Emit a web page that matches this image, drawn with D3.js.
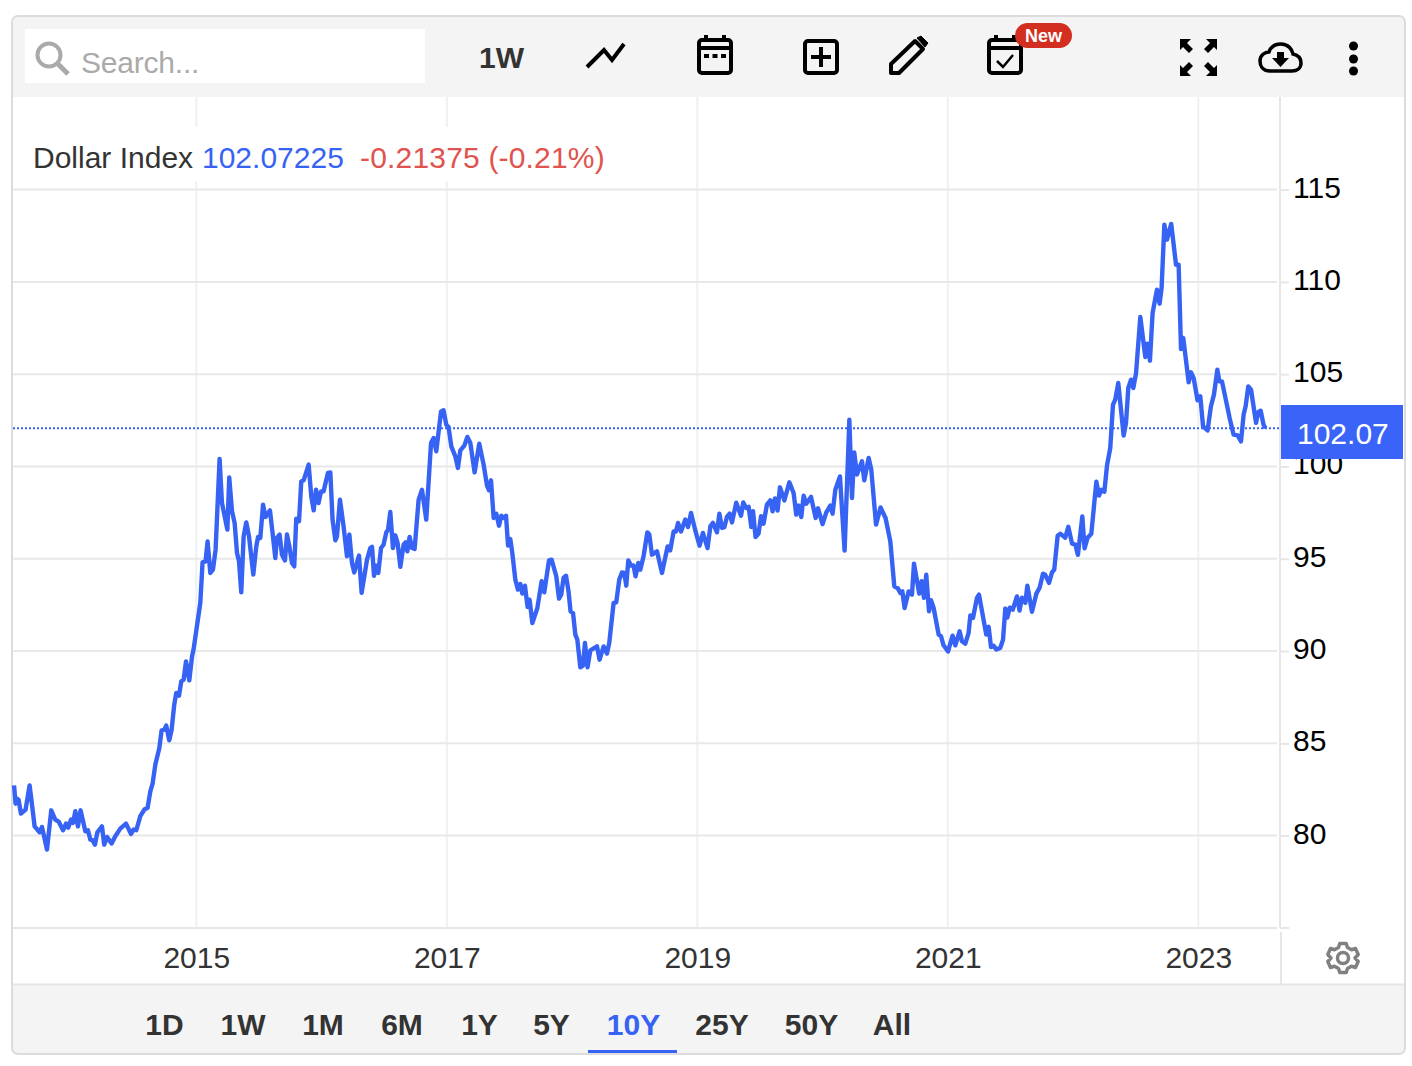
<!DOCTYPE html>
<html>
<head>
<meta charset="utf-8">
<title>Dollar Index</title>
<script src="https://cdnjs.cloudflare.com/ajax/libs/d3/7.8.5/d3.min.js"></script>
<style>
  html, body { margin: 0; padding: 0; background: #fff; }
  svg { display: block; }
  text { font-family: "Liberation Sans", Arial, sans-serif; }
</style>
</head>
<body>
<div id="chart"></div>
<script>
// decimal year of every point
var years = [
2013.545,2013.557,2013.568,2013.581,2013.600,2013.637,2013.669,2013.680,2013.709,2013.749,2013.768,2013.808,2013.842,2013.874,2013.901,2013.936,2013.960,2013.978,
2014.000,2014.016,2014.034,2014.055,2014.076,2014.114,2014.135,2014.154,2014.170,2014.191,2014.210,2014.247,2014.265,2014.287,2014.324,2014.353,2014.393,2014.439,2014.479,2014.499,2014.521,2014.553,2014.585,2014.611,2014.633,2014.651,2014.673,2014.705,2014.723,2014.745,2014.760,2014.784,2014.803,2014.824,2014.840,2014.862,2014.880,2014.899,2014.918,2014.944,2014.966,2014.978,
2015.032,2015.050,2015.074,2015.090,2015.112,2015.133,2015.154,2015.186,2015.205,2015.248,2015.263,2015.285,2015.306,2015.325,2015.341,2015.359,2015.378,2015.399,2015.421,2015.455,2015.479,2015.493,2015.511,2015.533,2015.553,2015.588,2015.609,2015.631,2015.644,2015.665,2015.684,2015.708,2015.724,2015.743,2015.764,2015.782,2015.798,2015.820,2015.838,2015.857,2015.897,2015.918,2015.937,2015.956,2015.976,2015.996,
2016.016,2016.051,2016.070,2016.088,2016.110,2016.123,2016.147,2016.176,2016.203,2016.222,2016.243,2016.261,2016.299,2016.320,2016.363,2016.389,2016.403,2016.419,2016.435,2016.453,2016.475,2016.495,2016.517,2016.531,2016.549,2016.570,2016.589,2016.607,2016.629,2016.655,2016.671,2016.685,2016.703,2016.722,2016.743,2016.775,2016.802,2016.836,2016.874,2016.895,2016.916,2016.954,2016.974,2016.996,
2017.014,2017.036,2017.068,2017.089,2017.108,2017.140,2017.164,2017.188,2017.222,2017.259,2017.294,2017.321,2017.337,2017.353,2017.374,2017.395,2017.417,2017.435,2017.453,2017.473,2017.489,2017.507,2017.523,2017.547,2017.568,2017.587,2017.603,2017.624,2017.645,2017.661,2017.683,2017.723,2017.757,2017.778,2017.816,2017.837,2017.874,2017.896,2017.914,2017.932,2017.952,2017.972,2017.988,
2018.008,2018.026,2018.042,2018.066,2018.087,2018.103,2018.124,2018.146,2018.199,2018.220,2018.252,2018.279,2018.297,2018.332,2018.353,2018.377,2018.399,2018.417,2018.433,2018.449,2018.471,2018.491,2018.507,2018.529,2018.545,2018.571,2018.601,2018.617,2018.638,2018.678,2018.718,2018.763,2018.784,2018.811,2018.830,2018.846,2018.870,2018.904,2018.926,2018.950,2018.986,
2019.018,2019.045,2019.082,2019.104,2019.125,2019.157,2019.176,2019.197,2019.216,2019.237,2019.258,2019.277,2019.311,2019.349,2019.367,2019.391,2019.410,2019.431,2019.445,2019.465,2019.489,2019.509,2019.529,2019.556,2019.583,2019.601,2019.620,2019.641,2019.660,2019.695,2019.735,2019.769,2019.790,2019.809,2019.830,2019.849,2019.870,2019.908,2019.945,2019.964,
2020.000,2020.030,2020.062,2020.080,2020.102,2020.139,2020.176,2020.214,2020.235,2020.253,2020.275,2020.315,2020.333,2020.368,2020.389,2020.427,2020.463,2020.503,2020.541,2020.573,2020.599,2020.621,2020.637,2020.655,2020.687,2020.714,2020.730,2020.772,2020.791,2020.810,2020.828,2020.850,2020.866,2020.887,2020.927,2020.946,2020.966,
2021.002,2021.038,2021.060,2021.094,2021.113,2021.140,2021.166,2021.180,2021.201,2021.233,2021.249,2021.307,2021.326,2021.345,2021.366,2021.387,2021.419,2021.441,2021.459,2021.475,2021.495,2021.519,2021.552,2021.573,2021.592,2021.619,2021.635,2021.672,2021.707,2021.733,2021.760,2021.778,2021.808,2021.832,2021.850,2021.877,2021.898,2021.938,2021.962,2021.992,
2022.018,2022.039,2022.074,2022.092,2022.116,2022.146,2022.186,2022.207,2022.226,2022.250,2022.271,2022.297,2022.319,2022.337,2022.361,2022.404,2022.423,2022.441,2022.463,2022.481,2022.503,2022.537,2022.577,2022.593,2022.614,2022.635,2022.670,2022.691,2022.707,2022.729,2022.750,2022.784,2022.822,2022.843,2022.862,2022.880,2022.923,2022.942,2022.963,2022.994,
2023.016,2023.038,2023.074,2023.101,2023.125,2023.152,2023.168,2023.189,2023.250,2023.282,2023.314,2023.341,2023.362,2023.378,2023.399,2023.421,2023.461,2023.477,2023.498,2023.521,2023.537
];

var dollarIndex = [
82.72,81.73,82.00,81.95,81.19,81.41,82.72,82.13,80.50,80.18,80.47,79.24,81.37,80.87,80.76,80.29,80.65,80.43,
80.87,80.69,81.32,80.50,81.37,80.23,80.29,79.78,79.75,79.51,80.18,80.50,79.51,79.93,79.57,79.96,80.38,80.65,80.09,80.33,80.29,81.05,81.41,81.50,82.40,82.82,83.85,84.75,85.70,85.74,85.96,85.16,85.74,87.10,87.73,87.58,88.36,88.45,89.44,88.41,89.71,90.08,
92.61,94.80,94.86,95.94,94.23,94.41,95.49,100.41,98.02,96.58,99.41,97.57,96.94,95.31,94.86,93.18,96.21,96.97,96.21,94.14,95.67,96.18,96.13,97.93,97.26,97.62,96.40,95.04,96.13,96.31,95.22,94.91,96.31,95.67,94.77,94.59,97.17,97.03,99.19,99.25,100.10,98.38,97.62,98.74,98.02,98.65,
98.65,99.65,99.68,97.12,96.00,96.21,98.20,96.75,95.13,96.31,94.77,94.26,95.17,93.15,94.95,95.58,95.64,94.08,94.63,94.23,95.58,95.76,96.43,96.58,97.53,95.58,96.27,95.86,94.56,95.76,95.89,95.40,96.18,95.58,95.53,98.20,98.74,97.12,101.27,101.54,100.82,102.98,103.04,102.26,
102.14,101.09,100.55,99.92,100.87,101.13,101.60,101.27,99.68,101.23,100.10,98.96,98.71,99.25,97.21,97.44,96.79,97.33,97.21,97.33,95.71,96.07,95.31,93.87,93.33,93.63,93.11,93.54,92.39,92.78,91.52,92.33,93.78,93.18,94.91,94.95,94.05,92.84,93.06,93.96,94.08,93.23,92.15,
92.06,90.89,90.62,89.12,89.21,90.44,89.12,90.04,90.25,89.53,90.25,89.86,90.44,92.61,92.64,93.87,94.26,94.23,93.54,94.91,94.63,94.63,94.05,94.77,94.41,95.13,96.43,96.31,95.22,95.40,94.23,95.67,95.45,96.48,96.48,96.94,96.48,97.12,96.72,97.48,96.48,
95.71,96.40,95.58,96.75,96.94,96.43,97.44,96.67,96.71,97.28,97.44,96.97,98.04,97.33,98.05,97.75,97.81,96.72,97.57,96.18,96.36,97.30,96.90,97.93,98.16,97.57,98.27,97.61,98.87,98.16,99.14,98.56,97.39,97.88,97.26,98.42,97.98,98.35,97.21,97.73,
96.88,97.51,97.88,97.44,98.74,99.46,95.44,102.53,98.29,100.76,99.56,100.28,99.25,100.46,99.83,96.85,97.78,97.21,95.94,93.50,93.42,93.15,93.23,92.33,93.23,93.06,94.73,93.11,93.78,92.88,94.14,92.15,92.75,92.33,90.89,90.80,90.31,
89.98,90.83,90.31,91.07,90.53,90.40,90.98,91.93,91.79,92.88,93.06,90.89,91.31,90.22,90.29,90.08,90.17,90.62,92.30,91.81,92.35,92.24,92.96,92.19,92.89,92.61,93.54,92.13,93.11,93.43,94.19,94.13,93.69,94.26,94.41,96.25,96.36,96.14,96.73,95.82,
95.77,95.21,97.29,95.56,96.14,96.36,99.18,98.42,98.74,98.63,100.04,101.00,103.35,103.62,104.52,101.67,102.36,104.25,104.70,104.25,105.06,108.10,105.93,106.65,105.73,108.31,109.58,108.82,109.67,113.10,112.29,113.14,110.93,110.93,106.36,106.96,104.56,105.10,104.79,103.58,
103.80,102.17,101.95,103.26,103.89,105.24,104.61,104.61,102.63,101.72,101.68,101.36,102.81,103.26,104.34,104.16,102.36,102.93,103.02,102.26,102.07
];

var yTicks = [80, 85, 90, 95, 100, 105, 110, 115];
var xTicks = [2015, 2017, 2019, 2021, 2023];

var seriesName = "Dollar Index";
var lastValue = "102.07225";
var lastChange = "-0.21375 (-0.21%)";
var lastLabel = "102.07";

var rangeLabels = ["1D", "1W", "1M", "6M", "1Y", "5Y", "10Y", "25Y", "50Y", "All"];
var rangeCenters = [164.5, 243, 323, 402, 479.5, 551.5, 633.5, 722, 811.5, 892];
var rangeActive = "10Y";

var width = 1412, height = 1066;
var blue = "#3763f4";

var x = d3.scaleLinear().domain([2015, 2023]).range([196.3, 1198.3]);
var y = d3.scaleLinear().domain([80, 115]).range([835.6, 189.6]);

var svg = d3.select("#chart").append("svg").attr("width", width).attr("height", height);

// frame and the two grey bands
svg.append("rect").attr("x", 12).attr("y", 16).attr("width", 1393).attr("height", 1038)
  .attr("rx", 6).attr("fill", "#f4f4f4").attr("stroke", "#dcdcdc").attr("stroke-width", 2);
svg.append("rect").attr("x", 13).attr("y", 97).attr("width", 1391).attr("height", 887).attr("fill", "#fff");
svg.append("line").attr("x1", 13).attr("x2", 1404).attr("y1", 984.5).attr("y2", 984.5)
  .attr("stroke", "#e6e6e6").attr("stroke-width", 2);

// vertical grid
svg.append("g").selectAll("line").data(xTicks).join("line")
  .attr("x1", d => x(d)).attr("x2", d => x(d))
  .attr("y1", 97).attr("y2", 928)
  .attr("stroke", "#edf1f5").attr("stroke-width", 2);

// horizontal grid
svg.append("g").selectAll("line").data(yTicks).join("line")
  .attr("x1", 13).attr("x2", 1277)
  .attr("y1", d => y(d)).attr("y2", d => y(d))
  .attr("stroke", "#e8e8e8").attr("stroke-width", 2);

// bottom edge of the plot and the axis column
svg.append("line").attr("x1", 13).attr("x2", 1277).attr("y1", 928).attr("y2", 928)
  .attr("stroke", "#e6e6e6").attr("stroke-width", 2);
svg.append("line").attr("x1", 1280).attr("x2", 1280).attr("y1", 97).attr("y2", 928)
  .attr("stroke", "#e6e6e6").attr("stroke-width", 2);
svg.append("line").attr("x1", 1280).attr("x2", 1289).attr("y1", 928).attr("y2", 928)
  .attr("stroke", "#e6e6e6").attr("stroke-width", 2);
svg.append("line").attr("x1", 1281).attr("x2", 1281).attr("y1", 932).attr("y2", 984)
  .attr("stroke", "#e6e6e6").attr("stroke-width", 2);

// title background cuts the grid lines
svg.append("rect").attr("x", 14).attr("y", 127).attr("width", 596).attr("height", 54).attr("fill", "#fff");

var yAxis = d3.axisRight(y).tickValues(yTicks).tickSize(9).tickPadding(4).tickFormat(d3.format("d"));
var yg = svg.append("g").attr("transform", "translate(1280,0)").call(yAxis);
yg.select(".domain").remove();
yg.selectAll("line").attr("stroke", "#e6e6e6").attr("stroke-width", 2);
yg.selectAll("text").attr("font-size", 30).attr("fill", "#000").attr("dy", "0.25em")
  .style("letter-spacing", "0.1px")
  .style("font-family", '"Liberation Sans", Arial, sans-serif');

var xAxis = d3.axisBottom(x).tickValues(xTicks).tickSize(0).tickPadding(0).tickFormat(d3.format("d"));
var xg = svg.append("g").attr("transform", "translate(0,947)").call(xAxis);
xg.select(".domain").remove();
xg.selectAll("text").attr("font-size", 30).attr("fill", "#333")
  .style("font-family", '"Liberation Sans", Arial, sans-serif');

// last value line
svg.append("line").attr("x1", 13).attr("x2", 1280)
  .attr("y1", y(102.07)).attr("y2", y(102.07))
  .attr("stroke", blue).attr("stroke-width", 2).attr("stroke-dasharray", "2,2");

var line = d3.line().x(d => x(d[0])).y(d => y(d[1]));
svg.append("path").datum(d3.zip(years, dollarIndex))
  .attr("d", line).attr("fill", "none")
  .attr("stroke", blue).attr("stroke-width", 4.4).attr("stroke-linejoin", "round");

// price tag sits on top of the 100 label
svg.append("rect").attr("x", 1281).attr("y", 405).attr("width", 122).attr("height", 54).attr("fill", "#3a64f8");
svg.append("text").attr("x", 1297).attr("y", 444).attr("font-size", 30).attr("fill", "#fff").text(lastLabel);

// title
svg.append("text").attr("x", 33).attr("y", 167.5).attr("font-size", 30).attr("fill", "#333").text(seriesName);
svg.append("text").attr("x", 202).attr("y", 167.5).attr("font-size", 30).attr("fill", blue).text(lastValue);
svg.append("text").attr("x", 360).attr("y", 167.5).attr("font-size", 30).attr("fill", "#e0534e")
  .style("letter-spacing", "0.18px").text(lastChange);

// search box
svg.append("rect").attr("x", 25).attr("y", 29).attr("width", 400).attr("height", 54).attr("fill", "#fff");
svg.append("circle").attr("cx", 49).attr("cy", 55).attr("r", 11.5)
  .attr("fill", "none").attr("stroke", "#aaa").attr("stroke-width", 4);
svg.append("line").attr("x1", 57).attr("y1", 63).attr("x2", 68).attr("y2", 74)
  .attr("stroke", "#aaa").attr("stroke-width", 5);
svg.append("text").attr("x", 81).attr("y", 73).attr("font-size", 30).attr("fill", "#aaa")
  .style("letter-spacing", "-0.2px").text("Search...");

// toolbar
svg.append("text").attr("x", 479).attr("y", 68).attr("font-size", 30)
  .attr("font-weight", "bold").attr("fill", "#333").text("1W");
svg.append("path").attr("d", "M587,67 L604,50 L612,60 L624,44")
  .attr("fill", "none").attr("stroke", "#000").attr("stroke-width", 4);

function calendar(left, top) {
  var g = svg.append("g").attr("transform", "translate(" + left + "," + top + ")");
  g.append("rect").attr("x", 2).attr("y", 5).attr("width", 32).attr("height", 33).attr("rx", 3)
    .attr("fill", "none").attr("stroke", "#000").attr("stroke-width", 4);
  g.append("line").attr("x1", 2).attr("x2", 34).attr("y1", 13).attr("y2", 13)
    .attr("stroke", "#000").attr("stroke-width", 4);
  g.append("path").attr("d", "M9,0 V5 M27,0 V5").attr("stroke", "#000").attr("stroke-width", 4);
  return g;
}

var cal1 = calendar(697, 35);
cal1.append("path").attr("d", "M7,21 h5 M15.5,21 h5 M24,21 h5").attr("stroke", "#000").attr("stroke-width", 4);

svg.append("rect").attr("x", 805).attr("y", 41).attr("width", 32).attr("height", 32).attr("rx", 3)
  .attr("fill", "none").attr("stroke", "#000").attr("stroke-width", 4);
svg.append("path").attr("d", "M821,47 V67 M811,57 H831").attr("stroke", "#000").attr("stroke-width", 4);

// pencil
svg.append("path").attr("d", "M891,73 L891,64 L915,41 L923,49 L899,73 Z")
  .attr("fill", "none").attr("stroke", "#000").attr("stroke-width", 4).attr("stroke-linejoin", "round");
svg.append("path").attr("d", "M917,38 L921,36 L928,43 L925,47 Z").attr("fill", "#000").attr("stroke", "#000");

var cal2 = calendar(987, 35);
cal2.append("path").attr("d", "M10,26 L16,32 L26,20").attr("fill", "none").attr("stroke", "#000").attr("stroke-width", 2.5);

svg.append("rect").attr("x", 1015).attr("y", 23).attr("width", 57).attr("height", 25).attr("rx", 12.5).attr("fill", "#d22f20");
svg.append("text").attr("x", 1043.5).attr("y", 42).attr("text-anchor", "middle").attr("font-size", 18)
  .attr("font-weight", "bold").attr("fill", "#fff").text("New");

// fullscreen arrows
[[1180, 39, 1, 1], [1217, 39, -1, 1], [1180, 76, 1, -1], [1217, 76, -1, -1]].forEach(function(c) {
  var g = svg.append("g").attr("transform", "translate(" + c[0] + "," + c[1] + ") scale(" + c[2] + "," + c[3] + ")");
  g.append("path").attr("d", "M0,0 H11 L7,4 L13,10 L9,14 L3,8 L0,11 Z").attr("fill", "#000");
});

// cloud with download arrow
svg.append("path")
  .attr("d", "M1270,71 C1262,71 1260,65 1260,61 C1260,55 1265,52 1269,52 C1271,46 1276,44 1281,44 C1288,44 1292,49 1293,54 C1298,55 1301,58 1301,63 C1301,68 1297,71 1292,71 Z")
  .attr("fill", "none").attr("stroke", "#000").attr("stroke-width", 3.5);
svg.append("path").attr("d", "M1277,52 H1284 V58 H1289 L1280.5,67 L1272,58 H1277 Z").attr("fill", "#000");

svg.append("g").selectAll("circle").data([46, 59, 71]).join("circle")
  .attr("cx", 1353.5).attr("cy", d => d).attr("r", 4.5).attr("fill", "#000");

// settings gear
var gear = svg.append("g").attr("transform", "translate(1343,958)").attr("fill", "none").attr("stroke", "#808080");
gear.append("circle").attr("r", 5.5).attr("stroke-width", 3.5);
gear.append("path")
  .attr("d", "M-3.2,-14.5 L3.2,-14.5 L4.5,-10.5 L8.5,-8.3 L12.5,-9.5 L15.2,-3.5 L12,0 L15.2,3.5 L12.5,9.5 L8.5,8.3 L4.5,10.5 L3.2,14.5 L-3.2,14.5 L-4.5,10.5 L-8.5,8.3 L-12.5,9.5 L-15.2,3.5 L-12,0 L-15.2,-3.5 L-12.5,-9.5 L-8.5,-8.3 L-4.5,-10.5 Z")
  .attr("stroke-width", 3.5).attr("stroke-linejoin", "round");

// range buttons
svg.append("g").selectAll("text").data(rangeLabels).join("text")
  .attr("x", (d, i) => rangeCenters[i]).attr("y", 1035)
  .attr("text-anchor", "middle").attr("font-size", 30).attr("font-weight", "bold")
  .attr("fill", d => d === rangeActive ? blue : "#333")
  .text(d => d);
svg.append("rect").attr("x", 588).attr("y", 1050).attr("width", 89).attr("height", 3).attr("fill", blue);
</script>
</body>
</html>
